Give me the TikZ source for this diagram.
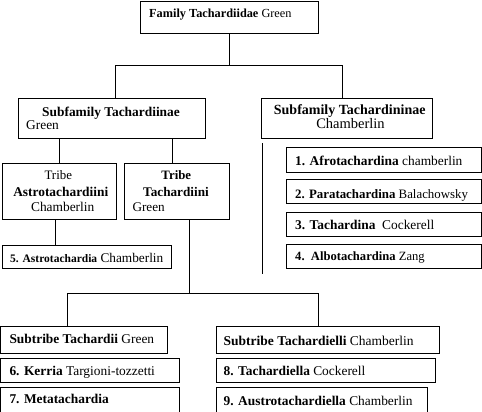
\documentclass[tikz,border=0pt]{standalone}
\usepackage{fontspec}
\setmainfont{Liberation Serif}
\begin{document}
\begin{tikzpicture}[x=1pt,y=-1pt,
  box/.style={draw,line width=0.8pt,anchor=north west,inner sep=0pt},
  fs/.style={font=\fontsize{#1}{#1}\selectfont},
  tl/.style={anchor=base west,inner sep=0pt,fs=#1},
  tc/.style={anchor=base,inner sep=0pt,fs=#1},
  ln/.style={line width=0.8pt}]
\useasboundingbox (0,0) rectangle (482,412);
% boxes
\node[box,minimum width=178pt,minimum height=32pt] (fam) at (140,1) {};
\node[box,minimum width=187pt,minimum height=40pt] (sfa) at (18,98) {};
\node[box,minimum width=171pt,minimum height=40pt] (sfb) at (261,98) {};
\node[box,minimum width=114pt,minimum height=56pt] (tra) at (2,163) {};
\node[box,minimum width=105pt,minimum height=56pt] (trb) at (124,163) {};
\node[box,minimum width=169pt,minimum height=23pt] (g5) at (2,245) {};
\node[box,minimum width=195pt,minimum height=25pt] (g1) at (286,147) {};
\node[box,minimum width=195pt,minimum height=24pt] (g2) at (286,179) {};
\node[box,minimum width=195pt,minimum height=24pt] (g3) at (286,212) {};
\node[box,minimum width=195pt,minimum height=24pt] (g4) at (286,244) {};
\node[box,minimum width=167pt,minimum height=27pt] (sta) at (0.4,326) {};
\node[box,minimum width=179pt,minimum height=24pt] (g6) at (0.4,358) {};
\node[box,minimum width=179pt,minimum height=25pt] (g7) at (0.4,387) {};
\node[box,minimum width=223pt,minimum height=27pt] (stb) at (216,326) {};
\node[box,minimum width=219pt,minimum height=24pt] (g8) at (216,358) {};
\node[box,minimum width=211pt,minimum height=25pt] (g9) at (216,387) {};
% texts
\node[tl=12.3] (t0) at (149,17.5) {\textbf{Family Tachardiidae} Green};
\node[tl=13.4] (t1) at (42,116) {\textbf{Subfamily Tachardiinae}};
\node[tl=13.4] (t1b) at (26,129.5) {Green};
\node[tc=14] (t2) at (349.7,114.7) {\textbf{Subfamily Tachardininae}};
\node[tc=14.5] (t2b) at (350.5,128.7) {Chamberlin};
\node[tc=12.9] (t3) at (58.3,179) {Tribe};
\node[tc=13.4] (t3b) at (60.8,196) {\textbf{Astrotachardiini}};
\node[tc=13.4] (t3c) at (62.7,211) {Chamberlin};
\node[tc=12.8] (t4) at (176.3,179) {\textbf{Tribe}};
\node[tc=13.2] (t4b) at (176,196) {\textbf{Tachardiini}};
\node[tl=13.2] (t4c) at (132.3,211) {Green};
\node[tl=13.3] (t5) at (10,262.7) {{\fontsize{11.5}{12}\selectfont\textbf{5. Astrotachardia}} Chamberlin};
\node[tl=13.4] (t11) at (295,165.5) {\textbf{1. Afrotachardina} chamberlin};
\node[tl=12.85] (t12) at (295,198) {\textbf{2. Paratachardina} Balachowsky};
\node[tl=13.4] (t13) at (295,229.3) {\textbf{3. Tachardina}\ \ Cockerell};
\node[tl=12.6] (t14) at (295,260.7) {\textbf{4.\ \ Albotachardina} Zang};
\node[tl=13.4] (t15) at (9.3,343.7) {\textbf{Subtribe Tachardii} Green};
\node[tl=13.4] (t16) at (9.3,375.3) {\textbf{6. Kerria} Targioni-tozzetti};
\node[tl=13.4] (t17) at (9.3,403.7) {\textbf{7. Metatachardia}};
\node[tl=13.5] (t18) at (223.5,345) {\textbf{Subtribe Tachardielli} Chamberlin};
\node[tl=13.4] (t19) at (223.5,375) {\textbf{8. Tachardiella} Cockerell};
\node[tl=13.4] (t20) at (223.5,405) {\textbf{9. Austrotachardiella} Chamberlin};
% junctions
\coordinate (j1) at (229,65);
\coordinate (ja) at (115,65);
\coordinate (jb) at (342,65);
\coordinate (j2) at (189,293);
\coordinate (jc) at (67,293);
\coordinate (jd) at (318,293);
\coordinate (bt) at (262,143);
\coordinate (bb) at (262,274);
\coordinate (ka) at (59,0);
\coordinate (kb) at (172,0);
\coordinate (kc) at (55,0);
% connectors
\draw[ln] (fam.south -| j1) -- (j1);
\draw[ln] (ja |- sfa.north) -- (ja) -- (jb) -- (jb |- sfb.north);
\draw[ln] (ka |- sfa.south) -- (ka |- tra.north);
\draw[ln] (kb |- sfa.south) -- (kb |- trb.north);
\draw[ln] (kc |- tra.south) -- (kc |- g5.north);
\draw[ln] (j2 |- trb.south) -- (j2);
\draw[ln] (jc |- sta.north) -- (jc) -- (jd) -- (jd |- stb.north);
\draw[ln] (bt) -- (bb);
\end{tikzpicture}
\end{document}
